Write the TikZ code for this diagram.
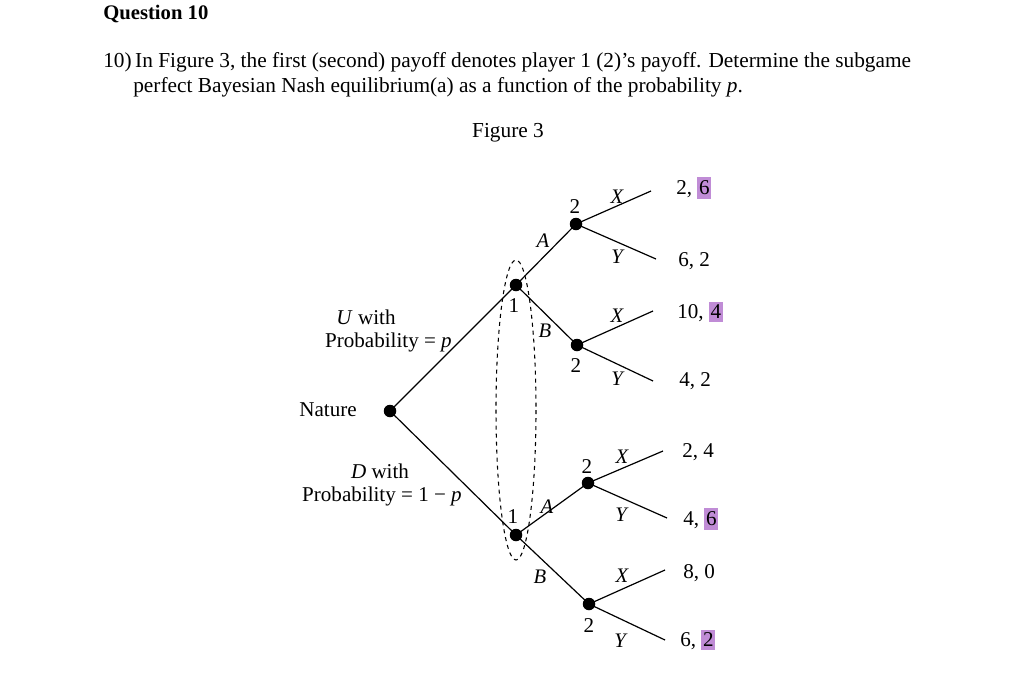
\documentclass[tikz,border=0pt]{standalone}
\usepackage{fontspec}
\setmainfont{Liberation Serif}
\definecolor{hl}{RGB}{192,140,214}
\begin{document}
\begin{tikzpicture}[x=0.75pt,y=-0.75pt,
  dot/.style={circle,fill=black,inner sep=0pt,minimum size=12.5pt*0.75},
  lbl/.style={inner sep=0pt,font=\fontsize{15.8pt}{19pt}\selectfont},
  txt/.style={inner sep=0pt,font=\fontsize{16pt}{19pt}\selectfont},
  br/.style={inner sep=0pt,font=\fontsize{15.5pt}{19pt}\selectfont\itshape},
  edge/.style={line width=0.9pt},
  hlbox/.style={fill=hl,inner xsep=1.3pt,inner ysep=2.6pt}]
\useasboundingbox (0,0) rectangle (1024,679);
% header text
\node[txt,anchor=west,font=\fontsize{15.5pt}{18pt}\selectfont\bfseries] (q) at (103,14) {Question 10};
\node[txt,anchor=west] (l1) at (103,62) {10)\,In Figure 3, the first (second) payoff denotes player 1 (2)'s payoff. Determine the subgame};
\node[txt,anchor=west] (l2) at (133,87) {perfect Bayesian Nash equilibrium(a) as a function of the probability \textit{p}.};
\node[txt] (fig) at (508,133) {Figure 3};
% nodes
\node[dot] (N) at (390,411) {};
\node[dot] (U1) at (516,285) {};
\node[dot] (D1) at (516,535) {};
\node[dot] (UA) at (576,224) {};
\node[dot] (UB) at (577,345) {};
\node[dot] (DA) at (588,483) {};
\node[dot] (DB) at (589,604) {};
% terminals
\coordinate (t1) at (651,191);
\coordinate (t2) at (656,259);
\coordinate (t3) at (653,311);
\coordinate (t4) at (653,381);
\coordinate (t5) at (663,451);
\coordinate (t6) at (667,518);
\coordinate (t7) at (665,570);
\coordinate (t8) at (665,640);
% info set
\draw[dashed,line width=0.8pt] (516,410) ellipse [x radius=20,y radius=150];
% edges
\draw[edge] (N.center) -- (U1.center) -- (UA.center);
\draw[edge] (U1.center) -- (UB.center);
\draw[edge] (N.center) -- (D1.center) -- (DB.center);
\draw[edge] (D1.center) -- (DA.center);
\draw[edge] (t1) -- (UA.center) -- (t2);
\draw[edge] (t3) -- (UB.center) -- (t4);
\draw[edge] (t5) -- (DA.center) -- (t6);
\draw[edge] (t7) -- (DB.center) -- (t8);
% player labels
\node[lbl] (nat) at (328,410) {Nature};
\node[lbl] (p1u) at (514,306) {1};
\node[lbl] (p1d) at (513,517) {1};
\node[lbl] (p2a) at (575,207) {2};
\node[lbl] (p2b) at (576,366) {2};
\node[lbl] (p2c) at (587,467) {2};
\node[lbl] (p2d) at (589,626) {2};
% chance labels
\node[lbl] (uw) at (366,317) {\textit{U} with};
\node[lbl,anchor=east] (up) at (452,342) {Probability = \textit{p}};
\node[lbl] (dw) at (380,471) {\textit{D} with};
\node[lbl,anchor=east] (dp) at (462,496) {Probability = 1 − \textit{p}};
% action labels
\node[br] at (543,241) {A};
\node[br] at (545,331) {B};
\node[br] at (547,507) {A};
\node[br] at (540,577) {B};
\node[br] at (617,197) {X};
\node[br] at (617,257) {Y};
\node[br] at (617,316) {X};
\node[br] at (617,379) {Y};
\node[br] at (622,457) {X};
\node[br] at (621,515) {Y};
\node[br] at (622,576) {X};
\node[br] at (620,641) {Y};
% payoffs
\node[lbl,anchor=west] (o1) at (676,188) {2, \tikz[baseline=(h.base)]\node[hlbox] (h) {6};};
\node[lbl,anchor=west] (o2) at (678,261) {6, 2};
\node[lbl,anchor=west] (o3) at (677,312) {10, \tikz[baseline=(h.base)]\node[hlbox] (h) {4};};
\node[lbl,anchor=west] (o4) at (679,381) {4, 2};
\node[lbl,anchor=west] (o5) at (682,452) {2, 4};
\node[lbl,anchor=west] (o6) at (683,519) {4, \tikz[baseline=(h.base)]\node[hlbox] (h) {6};};
\node[lbl,anchor=west] (o7) at (683,573) {8, 0};
\node[lbl,anchor=west] (o8) at (680,640) {6, \tikz[baseline=(h.base)]\node[hlbox] (h) {2};};
\end{tikzpicture}
\end{document}
